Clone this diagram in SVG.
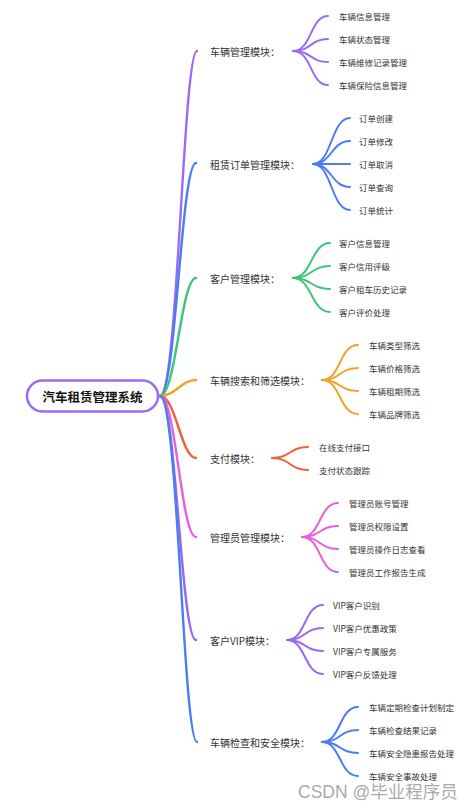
<svg xmlns="http://www.w3.org/2000/svg" width="474" height="808" viewBox="0 0 474 808">
<style>
text{font-family:"Noto Sans CJK SC","Noto Sans",sans-serif;fill:#333;dominant-baseline:central}
.root{font-size:12.5px;font-weight:bold;fill:#111}
.mod{font-size:10px}
.leaf{font-size:8.5px}
.c path{fill:none;stroke-linecap:round}
.m{stroke-width:2.4}
.s{stroke-width:2}
.wm{font-family:"Liberation Sans","Noto Sans CJK SC",sans-serif;font-size:17.5px;fill:#aaa;dominant-baseline:auto}
</style>
<rect width="474" height="808" fill="#fff"/>
<g id="connectors" class="c">
<path class="m" stroke="#9b6cf2" d="M160,396 C178,396 183,51 197,51"/>
<path class="m" stroke="#4a7ef0" d="M160,396 C176,396 181,163 196,163"/>
<path class="m" stroke="#3fc47b" d="M160,396 C176,396 181,278 196,278"/>
<path class="m" stroke="#f0a22a" d="M160,396 C176,396 181,380 196,380"/>
<path class="m" stroke="#f0603c" d="M160,396 C176,396 181,458 196,458"/>
<path class="m" stroke="#e65fe0" d="M160,396 C176,396 181,537 196,537"/>
<path class="m" stroke="#9966ee" d="M160,396 C176,396 181,640 196,640"/>
<path class="m" stroke="#4a7ef0" d="M160,396 C178,396 183,742 197,742"/>
<g stroke="#9b6cf2">
<path class="s" d="M293,51 C312,51 310,16 328,16"/><path class="s" d="M293,51 C312,51 310,39 328,39"/><path class="s" d="M293,51 C312,51 310,62 328,62"/><path class="s" d="M293,51 C312,51 310,85 328,85"/>
</g>
<g stroke="#4a7ef0">
<path class="s" d="M313,164 C332,164 331,118 350,118"/><path class="s" d="M313,164 C332,164 331,141 350,141"/><path class="s" d="M313,164 L350,164"/><path class="s" d="M313,164 C332,164 331,187 350,187"/><path class="s" d="M313,164 C332,164 331,210 350,210"/>
</g>
<g stroke="#3fc47b">
<path class="s" d="M293,278 C312,278 311,243 330,243"/><path class="s" d="M293,278 C312,278 311,266 330,266"/><path class="s" d="M293,278 C312,278 311,289 330,289"/><path class="s" d="M293,278 C312,278 311,312 330,312"/>
</g>
<g stroke="#f0a22a">
<path class="s" d="M322,380 C341,380 339,345 358,345"/><path class="s" d="M322,380 C341,380 339,368 358,368"/><path class="s" d="M322,380 C341,380 339,391 358,391"/><path class="s" d="M322,380 C341,380 339,414 358,414"/>
</g>
<g stroke="#f0603c">
<path class="s" d="M272,458 C291,458 289,447 308,447"/><path class="s" d="M272,458 C291,458 289,470 308,470"/>
</g>
<g stroke="#e65fe0">
<path class="s" d="M302,537 C321,537 319,503 338,503"/><path class="s" d="M302,537 C321,537 319,526 338,526"/><path class="s" d="M302,537 C321,537 319,549 338,549"/><path class="s" d="M302,537 C321,537 319,572 338,572"/>
</g>
<g stroke="#9966ee">
<path class="s" d="M287,640 C306,640 304,605 323,605"/><path class="s" d="M287,640 C306,640 304,628 323,628"/><path class="s" d="M287,640 C306,640 304,651 323,651"/><path class="s" d="M287,640 C306,640 304,674 323,674"/>
</g>
<g stroke="#4a7ef0">
<path class="s" d="M322,742 C341,742 339,707 358,707"/><path class="s" d="M322,742 C341,742 339,730 358,730"/><path class="s" d="M322,742 C341,742 339,753 358,753"/><path class="s" d="M322,742 C341,742 339,776 358,776"/>
</g>
</g>
<g id="root">
<rect x="27" y="380.5" width="131" height="31" rx="15.5" fill="#fff" stroke="#9b6cf2" stroke-width="2.5"/>
<text class="root" x="92.5" y="396" text-anchor="middle">汽车租赁管理系统</text>
</g>
<g id="m1"><text class="mod" x="210" y="51">车辆管理模块：</text>
<text class="leaf" x="339" y="16">车辆信息管理</text><text class="leaf" x="339" y="39">车辆状态管理</text><text class="leaf" x="339" y="62">车辆维修记录管理</text><text class="leaf" x="339" y="85">车辆保险信息管理</text></g>
<g id="m2"><text class="mod" x="210" y="164">租赁订单管理模块：</text>
<text class="leaf" x="359" y="118">订单创建</text><text class="leaf" x="359" y="141">订单修改</text><text class="leaf" x="359" y="164">订单取消</text><text class="leaf" x="359" y="187">订单查询</text><text class="leaf" x="359" y="210">订单统计</text></g>
<g id="m3"><text class="mod" x="210" y="278">客户管理模块：</text>
<text class="leaf" x="339" y="243">客户信息管理</text><text class="leaf" x="339" y="266">客户信用评级</text><text class="leaf" x="339" y="289">客户租车历史记录</text><text class="leaf" x="339" y="312">客户评价处理</text></g>
<g id="m4"><text class="mod" x="210" y="380">车辆搜索和筛选模块：</text>
<text class="leaf" x="369" y="345">车辆类型筛选</text><text class="leaf" x="369" y="368">车辆价格筛选</text><text class="leaf" x="369" y="391">车辆租期筛选</text><text class="leaf" x="369" y="414">车辆品牌筛选</text></g>
<g id="m5"><text class="mod" x="210" y="458">支付模块：</text>
<text class="leaf" x="319" y="447">在线支付接口</text><text class="leaf" x="319" y="470">支付状态跟踪</text></g>
<g id="m6"><text class="mod" x="210" y="537">管理员管理模块：</text>
<text class="leaf" x="349" y="503">管理员账号管理</text><text class="leaf" x="349" y="526">管理员权限设置</text><text class="leaf" x="349" y="549">管理员操作日志查看</text><text class="leaf" x="349" y="572">管理员工作报告生成</text></g>
<g id="m7"><text class="mod" x="210" y="640">客户VIP模块：</text>
<text class="leaf" x="333" y="605">VIP客户识别</text><text class="leaf" x="333" y="628">VIP客户优惠政策</text><text class="leaf" x="333" y="651">VIP客户专属服务</text><text class="leaf" x="333" y="674">VIP客户反馈处理</text></g>
<g id="m8"><text class="mod" x="210" y="742">车辆检查和安全模块：</text>
<text class="leaf" x="369" y="707">车辆定期检查计划制定</text><text class="leaf" x="369" y="730">车辆检查结果记录</text><text class="leaf" x="369" y="753">车辆安全隐患报告处理</text><text class="leaf" x="369" y="776">车辆安全事故处理</text></g>
<text class="wm" x="298" y="798">CSDN @毕业程序员</text>
</svg>
